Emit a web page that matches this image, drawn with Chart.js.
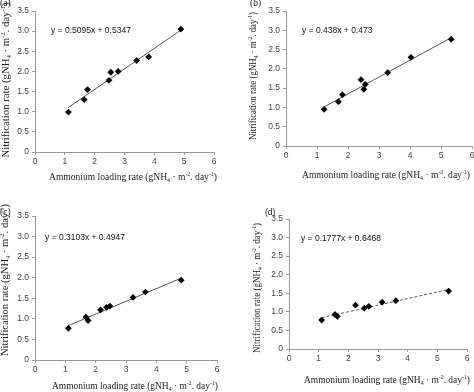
<!DOCTYPE html>
<html><head><meta charset="utf-8">
<script src="https://cdn.jsdelivr.net/npm/chart.js@4.4.0/dist/chart.umd.min.js"></script>
<style>
html,body{margin:0;padding:0;background:#fff;overflow:hidden;width:474px;height:392px;position:relative;}
canvas{position:absolute;}
</style></head><body>
<canvas id="ca"></canvas><canvas id="cb"></canvas><canvas id="cc"></canvas><canvas id="cd"></canvas>
<script>
// ---- data ----
const xTicks = [0, 1, 2, 3, 4, 5, 6];
const yTicks = [0, 0.5, 1, 1.5, 2, 2.5, 3, 3.5];
const panelLabels = ['(a)', '(b)', '(c)', '(d)'];
const equations = ['y = 0.5095x + 0.5347', 'y = 0.438x + 0.473', 'y = 0.3103x + 0.4947', 'y = 0.1777x + 0.6468'];

const loadA = [1.12, 1.65, 1.76, 2.48, 2.54, 2.79, 3.41, 3.81, 4.89];
const nitA  = [0.99, 1.30, 1.55, 1.78, 1.98, 2.00, 2.27, 2.36, 3.05];
const loadB = [1.23, 1.69, 1.82, 2.42, 2.51, 2.56, 3.28, 4.03, 5.33];
const nitB  = [0.95, 1.15, 1.33, 1.72, 1.47, 1.60, 1.90, 2.30, 2.77];
const loadC = [1.10, 1.68, 1.75, 2.16, 2.36, 2.47, 3.23, 3.64, 4.82];
const nitC  = [0.77, 1.04, 0.96, 1.22, 1.28, 1.31, 1.52, 1.65, 1.94];
const loadD = [1.10, 1.55, 1.63, 2.24, 2.54, 2.69, 3.14, 3.60, 5.38];
const nitD  = [0.78, 0.93, 0.88, 1.18, 1.10, 1.15, 1.26, 1.30, 1.56];

const trendXA = [1.10, 4.90], trendYA = [1.095, 3.031];
const trendXB = [1.23, 5.33], trendYB = [1.012, 2.808];
const trendXC = [1.10, 4.82], trendYC = [0.836, 1.990];
const trendXD = [1.10, 5.38], trendYD = [0.842, 1.603];

const xTitle = [{t:'Ammonium loading rate (gNH'},{t:'4',sub:1},{t:' \u00b7 m'},{t:'-2',sup:1},{t:'. day'},{t:'-1',sup:1},{t:')'}];
const yTitle = [{t:'Nitrification rate (gNH'},{t:'4',sub:1},{t:' \u00b7 m'},{t:'-2',sup:1},{t:'. day'},{t:'-1',sup:1},{t:')'}];

// ---- layout (pixels) ----
const layouts = [
  {id:'ca', left:0,   top:0,   w:237, h:196, area:[35,11,214,152], yT:[6,80,155],  xT:[133,177,168], eq:[51,31], lab:[0,3],   labFont:'serif', dash:null,
   xs:loadA, ys:nitA, tx:trendXA, ty:trendYA},
  {id:'cb', left:237, top:0,   w:250, h:196, area:[49,11,235,146], yT:[16,76,128], xT:[149,175,168], eq:[65,31], lab:[13,3],  labFont:'serif', dash:null,
   xs:loadB, ys:nitB, tx:trendXB, ty:trendYB},
  {id:'cc', left:0,   top:196, w:237, h:206, area:[35,20,217,164], yT:[5,84,152],  xT:[135,190,166], eq:[45,42], lab:[0,16],  labFont:'serif', dash:null,
   xs:loadC, ys:nitC, tx:trendXC, ty:trendYC},
  {id:'cd', left:237, top:196, w:237, h:196, area:[52,23,230,153], yT:[20,92,130], xT:[150,184,166], eq:[64,43], lab:[28,17], labFont:'sans', dash:[3,2],
   xs:loadD, ys:nitD, tx:trendXD, ty:trendYD}
];

const SERIF = '"Liberation Serif","Times New Roman",serif';
const SANS = '"Liberation Sans",Arial,sans-serif';

function drawRich(ctx, segs, cx, cy, size, target, rotate) {
  ctx.save();
  ctx.translate(cx, cy);
  if (rotate) ctx.rotate(-Math.PI / 2);
  const f = s => ((s.sub || s.sup) ? size * 0.62 : size) + 'px ' + SERIF;
  let w = 0;
  const ws = segs.map(s => { ctx.font = f(s); const m = ctx.measureText(s.t).width; w += m; return m; });
  ctx.scale(target / w, 1);
  ctx.textBaseline = 'middle';
  ctx.textAlign = 'left';
  ctx.fillStyle = '#222';
  let x = -w / 2;
  segs.forEach((s, i) => {
    ctx.font = f(s);
    const dy = s.sub ? size * 0.32 : (s.sup ? -size * 0.3 : 0);
    ctx.fillText(s.t, x, dy);
    x += ws[i];
  });
  ctx.restore();
}

const textPlugin = {
  id: 'panelText',
  afterDraw(chart) {
    const L = layouts.find(l => l.id === chart.canvas.id);
    const i = layouts.indexOf(L);
    const ctx = chart.ctx;
    drawRich(ctx, xTitle, L.xT[0], L.xT[1], 10, L.xT[2], false);
    drawRich(ctx, yTitle, L.yT[0], L.yT[1], 10, L.yT[2], true);
    ctx.save();
    ctx.fillStyle = '#111';
    ctx.textBaseline = 'middle';
    ctx.textAlign = 'left';
    ctx.font = '8.5px ' + SANS;
    ctx.fillText(equations[i], L.eq[0], L.eq[1]);
    ctx.font = (L.labFont === 'serif' ? '9.5px ' + SERIF : '8.5px ' + SANS);
    ctx.fillStyle = '#222';
    ctx.fillText(panelLabels[i], L.lab[0], L.lab[1]);
    ctx.restore();
  }
};

layouts.forEach(L => {
  const cv = document.getElementById(L.id);
  cv.width = L.w; cv.height = L.h;
  cv.style.left = L.left + 'px'; cv.style.top = L.top + 'px';
  cv.style.width = L.w + 'px'; cv.style.height = L.h + 'px';
  const [al, at, ar, ab] = L.area;
  new Chart(cv, {
    type: 'scatter',
    data: {
      datasets: [
        {
          data: L.xs.map((x, k) => ({x, y: L.ys[k]})),
          pointStyle: 'rectRot', pointRadius: 3.4, pointHoverRadius: 3.4,
          backgroundColor: '#000', borderColor: '#000', borderWidth: 0,
          showLine: false, order: 1
        },
        {
          data: L.tx.map((x, k) => ({x, y: L.ty[k]})),
          showLine: true, pointRadius: 0, borderColor: '#555', borderWidth: 1,
          borderDash: L.dash || [], fill: false, order: 2
        }
      ]
    },
    options: {
      responsive: false, animation: false, devicePixelRatio: 1,
      layout: { padding: { left: 0, top: at, right: L.w - ar, bottom: 0 } },
      plugins: { legend: { display: false }, tooltip: { enabled: false } },
      scales: {
        x: {
          type: 'linear', min: 0, max: 6,
          afterBuildTicks: s => { s.ticks = xTicks.map(v => ({value: v})); },
          afterFit: s => { s.height = L.h - ab; },
          grid: { drawOnChartArea: false, drawTicks: true, tickLength: 3, color: '#999', lineWidth: 1 },
          border: { color: '#999', width: 1 },
          ticks: { padding: 2, color: '#444', font: { family: SANS, size: 8.5 }, maxRotation: 0 }
        },
        y: {
          type: 'linear', min: 0, max: 3.5,
          afterBuildTicks: s => { s.ticks = yTicks.map(v => ({value: v})); },
          afterFit: s => { s.width = al; },
          grid: { drawOnChartArea: false, drawTicks: true, tickLength: 3, color: '#999', lineWidth: 1 },
          border: { color: '#999', width: 1 },
          ticks: { padding: 3, color: '#444', font: { family: SANS, size: 8.5 } }
        }
      }
    },
    plugins: [textPlugin]
  });
});
</script>
</body></html>
